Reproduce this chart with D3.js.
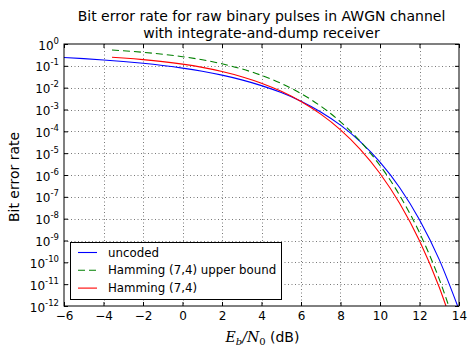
<!DOCTYPE html>
<html><head><meta charset="utf-8">
<script src="https://cdn.jsdelivr.net/npm/d3@7/dist/d3.min.js"></script>
<style>body{margin:0;background:#fff}text{font-family:"DejaVu Sans",sans-serif}</style>
</head><body>
<svg id="c" width="474" height="356" xmlns="http://www.w3.org/2000/svg"></svg>
<script>
// ---- data ----
const titleLines = ["Bit error rate for raw binary pulses in AWGN channel", "with integrate-and-dump receiver"];
const xTickValues = [-6, -4, -2, 0, 2, 4, 6, 8, 10, 12, 14];
const yExponents = [0, -1, -2, -3, -4, -5, -6, -7, -8, -9, -10, -11, -12];
const seriesNames = ["uncoded", "Hamming (7,4) upper bound", "Hamming (7,4)"];

const ebn0Uncoded = [-6, -5, -4, -3, -2, -1, 0, 1, 2, 3, 4, 5, 6, 7, 8, 9, 10, 11, 12, 13, 14];
const berUncoded = [0.2392, 0.2133, 0.1861, 0.1584, 0.1306, 0.1036, 0.0787, 0.0563, 0.0375, 0.0228,
  0.01243, 0.00595, 0.00239, 7.7e-4, 1.92e-4, 3.37e-5, 3.88e-6, 2.62e-7, 9.0e-9, 1.33e-10, 6.8e-13];

const ebn0Coded = [-3.57, -3, -2, -1, 0, 1, 2, 3, 4, 5, 6, 7, 8, 9, 10, 11, 12, 13, 14];
const berHammingBound = [0.5278, 0.4899, 0.4175, 0.3406, 0.2625, 0.1886, 0.1235, 0.0722, 0.0366, 0.01561,
  0.005384, 1.421e-3, 2.72e-4, 3.49e-5, 2.73e-6, 1.156e-7, 2.276e-9, 1.693e-11, 3.72e-14];
const berHamming = [0.2480, 0.2286, 0.1933, 0.1563, 0.1192, 0.0847, 0.0550, 0.0318, 0.01604, 0.006774,
  2.324e-3, 6.11e-4, 1.167e-4, 1.497e-5, 1.171e-6, 4.955e-8, 9.75e-10, 7.26e-12, 1.595e-14];

// ---- drawing ----
const svg = d3.select("#c");
const L = 64, R = 459, T = 44, B = 306;
const x = d3.scaleLinear().domain([-6, 14]).range([L, R]);
const y = d3.scaleLog().domain([1e-12, 1]).range([B, T]);
const yTickValues = yExponents.map(e => Math.pow(10, e));

svg.append("rect").attr("width", 474).attr("height", 356).attr("fill", "#fff");

// title
svg.append("g").selectAll("text").data(titleLines).join("text")
  .attr("x", (L + R) / 2).attr("y", (d, i) => 21 + i * 16.5)
  .attr("text-anchor", "middle").attr("font-size", 14).attr("fill", "#000").text(d => d);

// grid
const grid = svg.append("g").attr("stroke", "#555").attr("stroke-width", 0.8).attr("stroke-dasharray", "1,2.5");
grid.selectAll("line.gx").data(xTickValues.slice(1, -1)).join("line")
  .attr("x1", d => Math.round(x(d)) + 0.5).attr("x2", d => Math.round(x(d)) + 0.5)
  .attr("y1", T).attr("y2", B);
grid.selectAll("line.gy").data(yTickValues.slice(1, -1)).join("line")
  .attr("y1", d => Math.round(y(d)) + 0.5).attr("y2", d => Math.round(y(d)) + 0.5)
  .attr("x1", L).attr("x2", R);

// clip
svg.append("clipPath").attr("id", "clip").append("rect")
  .attr("x", L).attr("y", T).attr("width", R - L).attr("height", B - T);

const line = d3.line().x(d => x(d[0])).y(d => y(d[1])).curve(d3.curveMonotoneX);
const plot = svg.append("g").attr("clip-path", "url(#clip)").attr("fill", "none").attr("stroke-width", 1.1);
plot.append("path").datum(d3.zip(ebn0Uncoded, berUncoded)).attr("d", line).attr("stroke", "#0000ff");
plot.append("path").datum(d3.zip(ebn0Coded, berHammingBound)).attr("d", line).attr("stroke", "#008000")
  .attr("stroke-dasharray", "7,4");
plot.append("path").datum(d3.zip(ebn0Coded, berHamming)).attr("d", line).attr("stroke", "#ff0000");

// axes (ticks inside on all four sides)
const axB = svg.append("g").attr("transform", `translate(0,${B})`)
  .call(d3.axisBottom(x).tickValues(xTickValues).tickSize(-4).tickPadding(5)
    .tickFormat(d => d < 0 ? "\u2212" + (-d) : String(d)));
const axT = svg.append("g").attr("transform", `translate(0,${T})`)
  .call(d3.axisTop(x).tickValues(xTickValues).tickSize(-4).tickFormat(() => ""));
const axL = svg.append("g").attr("transform", `translate(${L},0)`)
  .call(d3.axisLeft(y).tickValues(yTickValues).tickSize(-4).tickFormat(() => ""));
const axR = svg.append("g").attr("transform", `translate(${R},0)`)
  .call(d3.axisRight(y).tickValues(yTickValues).tickSize(-4).tickFormat(() => ""));
[axB, axT, axL, axR].forEach(a => {
  a.select(".domain").remove();
  a.selectAll(".tick line").attr("stroke", "#000");
});
axB.selectAll(".tick text").attr("font-size", 12).attr("fill", "#000")
  .attr("font-family", "DejaVu Sans").attr("dy", "0.71em");

// y tick labels 10^n
axL.selectAll(".tick").each(function (d) {
  const e = Math.round(Math.log10(d));
  const t = d3.select(this).append("text").attr("x", -5).attr("y", 0).attr("dy", 5)
    .attr("text-anchor", "end").attr("fill", "#000").attr("font-size", 12).attr("font-family", "DejaVu Sans");
  t.append("tspan").text("10");
  t.append("tspan").attr("dy", -6).attr("font-size", 8.5).text(e < 0 ? "-" + (-e) : String(e));
});

// frame
svg.append("rect").attr("x", L).attr("y", T).attr("width", R - L).attr("height", B - T)
  .attr("fill", "none").attr("stroke", "#000").attr("stroke-width", 1);

// axis labels
svg.append("text").attr("transform", `translate(19,${(T + B) / 2 + 2}) rotate(-90)`)
  .attr("text-anchor", "middle").attr("font-size", 14).attr("fill", "#000").text("Bit error rate");

const xl = svg.append("text").attr("x", (L + R) / 2 + 1).attr("y", 342).attr("text-anchor", "middle")
  .attr("font-size", 14).attr("fill", "#000");
xl.append("tspan").attr("font-family", "DejaVu Serif").attr("font-style", "italic").text("E");
xl.append("tspan").attr("font-family", "DejaVu Serif").attr("font-style", "italic").attr("font-size", 10).attr("dy", 3).text("b");
xl.append("tspan").attr("font-family", "DejaVu Serif").attr("font-style", "italic").attr("dy", -3).text("/N");
xl.append("tspan").attr("font-family", "DejaVu Serif").attr("font-size", 10).attr("dy", 3).text("0");
xl.append("tspan").attr("dy", -3).text(" (dB)");

// legend
const lg = svg.append("g");
lg.append("rect").attr("x", 70.5).attr("y", 242.5).attr("width", 211).attr("height", 57)
  .attr("fill", "#fff").attr("stroke", "#000").attr("stroke-width", 1);
const legColors = ["#0000ff", "#008000", "#ff0000"];
const legDash = [null, "7,4", null];
const items = lg.selectAll("g.item").data(seriesNames).join("g")
  .attr("transform", (d, i) => `translate(0,${252.5 + i * 17.8})`);
items.append("line").attr("x1", 78).attr("x2", 97).attr("y1", 0).attr("y2", 0)
  .attr("stroke", (d, i) => legColors[i]).attr("stroke-width", 1.1)
  .attr("stroke-dasharray", (d, i) => legDash[i]);
items.append("text").attr("x", 108).attr("y", 0).attr("dy", "0.35em").attr("font-size", 11.8)
  .attr("fill", "#000").text(d => d);
</script>
</body></html>
